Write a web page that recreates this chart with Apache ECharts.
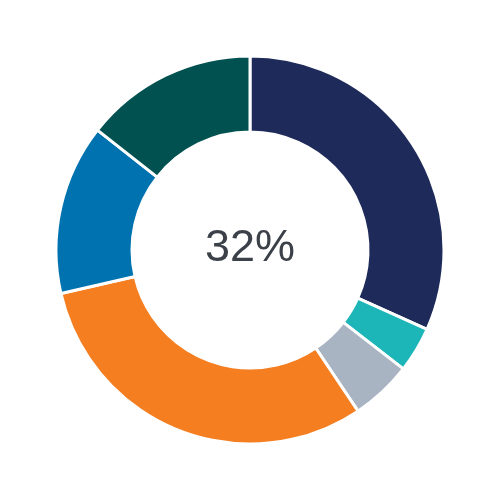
<!DOCTYPE html>
<html>
<head>
<meta charset="utf-8">
<script src="https://cdn.jsdelivr.net/npm/echarts@6/dist/echarts.min.js"></script>
<style>html,body{margin:0;padding:0;background:#fff;}#c{width:500px;height:500px;}</style>
</head>
<body>
<div id="c"></div>
<script>
const categories = ['A', 'B', 'C', 'D', 'E', 'F'];
const values = [31.7, 3.8, 5.1, 30.8, 14.2, 14.4];
const colors = ['#1e2b5a', '#1db6b8', '#a9b4c3', '#f47e20', '#0072b0', '#00514f'];
const centerLabel = '32%';

const chart = echarts.init(document.getElementById('c'));
chart.setOption({
  animation: false,
  graphic: [{
    type: 'text',
    left: 'center',
    top: 226,
    style: { text: centerLabel, fontSize: 45, fontFamily: 'Liberation Sans, Arial, sans-serif', fill: '#3b4049' }
  }],
  series: [{
    type: 'pie',
    center: [250, 250],
    radius: [118, 194],
    startAngle: 90,
    clockwise: true,
    label: { show: false },
    labelLine: { show: false },
    itemStyle: { borderColor: '#ffffff', borderWidth: 3 },
    emphasis: { disabled: true },
    data: categories.map((c, i) => ({ name: c, value: values[i], itemStyle: { color: colors[i] } }))
  }]
});
</script>
</body>
</html>
